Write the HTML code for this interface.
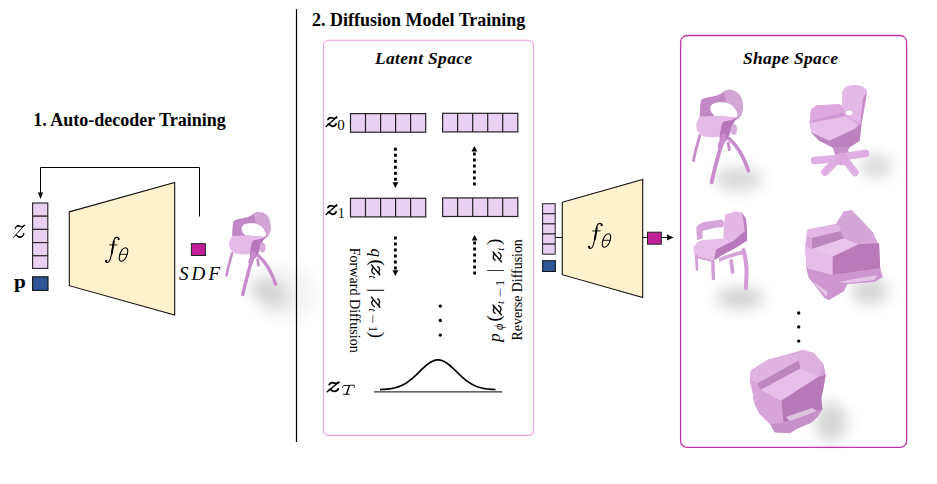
<!DOCTYPE html>
<html><head><meta charset="utf-8">
<style>
html,body{margin:0;padding:0;background:#fff;}
body{width:937px;height:484px;overflow:hidden;position:relative;}
svg{position:absolute;left:0;top:0;}
text{font-family:"Liberation Serif",serif;}
</style></head><body>
<svg width="937" height="484" viewBox="0 0 937 484">
<defs>

  <filter id="blur" x="-50%" y="-50%" width="200%" height="200%"><feGaussianBlur stdDeviation="7"/></filter>
  <path id="zn" d="M0.175,0.246 C0.246,0.095 0.351,0.024 0.456,0.032 C0.561,0.04 0.614,0.127 0.719,0.127 C0.816,0.127 0.912,0.063 0.991,0.008 M0.991,0.008 L0.009,0.984 M0.237,0.794 C0.36,0.794 0.447,0.96 0.588,0.96 C0.737,0.96 0.877,0.817 0.939,0.659" fill="none" stroke="#000" stroke-width="1.35" stroke-linecap="round" vector-effect="non-scaling-stroke"/>
</defs>

<!-- headings -->
<text x="33.2" y="125.8" font-size="18" font-weight="bold">1. Auto-decoder Training</text>
<text x="312" y="25.8" font-size="18" font-weight="bold">2. Diffusion Model Training</text>

<!-- divider -->
<line x1="296.5" y1="9" x2="296.5" y2="442" stroke="#000" stroke-width="1.2"/>

<!-- ===== Part 1 ===== -->
<!-- feedback arrow -->
<polyline points="199.5,216.5 199.5,167.5 40.5,167.5 40.5,193" fill="none" stroke="#000" stroke-width="1"/>
<path d="M37.8,192.5 L43.2,192.5 L40.5,199 z" fill="#000"/>
<!-- z stack -->
<g fill="#E9D1F3" stroke="#222" stroke-width="1.1">
  <rect x="32.6" y="203" width="15.2" height="13.2"/>
  <rect x="32.6" y="216.2" width="15.2" height="13.2"/>
  <rect x="32.6" y="229.4" width="15.2" height="13.2"/>
  <rect x="32.6" y="242.6" width="15.2" height="13.2"/>
  <rect x="32.6" y="255.8" width="15.2" height="12.6"/>
</g>
<rect x="32.6" y="276.8" width="15.4" height="13.6" fill="#2F5597" stroke="#111" stroke-width="1.1"/>
<g fill="none" stroke="#000" stroke-linecap="round">
  <path d="M15.2,228.3 C16,226.4 17.2,225.5 18.4,225.6 C19.6,225.7 20.2,226.8 21.4,226.8 C22.5,226.8 23.6,226 24.5,225.3" stroke-width="1.3"/>
  <path d="M24.5,225.3 L13.3,237.6" stroke-width="0.9"/>
  <path d="M15.9,235.2 C17.3,235.2 18.3,237.3 19.9,237.3 C21.6,237.3 23.2,235.5 23.9,233.5" stroke-width="1.3"/>
  <ellipse cx="18.3" cy="225.9" rx="1.5" ry="0.75" fill="#000" stroke="none"/>
  <ellipse cx="19.6" cy="237" rx="1.5" ry="0.75" fill="#000" stroke="none"/>
</g>
<text transform="translate(14,288.2) scale(1.12,1)" x="0" y="0" font-size="19" font-weight="bold">p</text>
<!-- trapezoid -->
<polygon points="69.3,211.9 174.7,182.4 174.7,315.1 69.3,285.7" fill="#FFF2CC" stroke="#111" stroke-width="1.1"/>
<g id="fth" fill="none" stroke="#000" stroke-linecap="round">
  <path d="M118.9,238.6 C117.8,236.9 115.3,236.8 114.3,239.2 C113.4,241.5 112.8,247 111.8,252.5 C111,257 110.2,260.3 108.7,261.9 C107.6,262.9 106.1,262.6 105.6,261.3" stroke-width="1.1"/>
  <path d="M113.8,241.5 C113.2,245 112.6,249.5 111.8,253.5" stroke-width="1.9"/>
  <circle cx="118.6" cy="239" r="1.15" fill="#000" stroke="none"/>
  <circle cx="106.2" cy="260.9" r="1.15" fill="#000" stroke="none"/>
  <path d="M109.6,244.9 L117.2,244.9" stroke-width="0.9"/>
  <path d="M125.4,247.7 C127.4,247.7 128.1,249.6 127.6,252.5 C126.8,257 124.4,261.2 121.6,261.2 C119.6,261.2 118.9,259.4 119.4,256.5 C120.2,252 122.6,247.7 125.4,247.7 Z" stroke-width="1.1"/>
  <path d="M119.9,254.3 L127.2,254.3" stroke-width="0.9"/>
</g>
<!-- SDF -->
<rect x="191.4" y="243.7" width="14" height="11.8" fill="#C0209A" stroke="#222" stroke-width="1"/>
<text x="179" y="280.2" font-size="19" font-style="italic" textLength="41" lengthAdjust="spacing">SDF</text>



<!-- shadows -->
<g filter="url(#blur)" fill="#000">
  <ellipse cx="286" cy="293" rx="30" ry="28" opacity="0.045"/>
  <ellipse cx="269" cy="292" rx="21" ry="13" opacity="0.13" transform="rotate(25 269 292)"/>
</g>

<!-- chair A -->
<g id="chairA">
  <path d="M233.3,221.4 C235,219.5 239,218.8 242.6,218.3 C245.5,217.8 248,217.2 249.8,216.3 C251,215.5 252,214.8 252.9,214.2 C254.5,213 256.3,212.2 258.1,212.1 C259.5,212 261,212.2 262.2,212.6 C264.5,213.5 266.3,214.8 267.4,216.3 C268.8,218 269.6,219.8 269.9,221.4 C270.5,224 270.6,226.5 270.5,228.7 C270.3,230.5 270,232.2 269.4,233.8 C268.5,235.5 267.5,237 266.3,238 C265,239 263.5,239.6 262.2,240 L259.1,241.1 L252.9,240 L232.2,235.9 C232.2,231 232.5,225 233.3,221.4 Z M241.5,228.7 C241.5,226 244,223.8 247.7,223.5 C250.5,223.2 253.5,223.2 256,223.5 C259.5,224.3 262.5,226.7 264.3,229.7 C265.5,231.5 266.3,233.5 266.3,234.9 C265.7,236 265,236.6 264.3,236.9 L253.9,235.9 L245.7,235.4 C243.5,234 241.7,231.5 241.5,228.7 Z" fill="#C088C4" fill-rule="evenodd"/>
  <path d="M253.5,213.8 C255,212.8 256.8,212.1 258.1,212.1 C259.5,212 261,212.2 262.2,212.6 C264.5,213.5 266.3,214.8 267.4,216.3 C268.8,218 269.6,219.8 269.9,221.4 C270.5,224 270.6,226.5 270.5,228.7 C270.3,230.5 270,232.2 269.4,233.8 C268.5,235.5 267.5,237 266.3,238 L264.3,236.9 C265,236.6 265.7,236 266.3,234.9 C266.3,233.5 265.5,231.5 264.3,229.7 C262.5,226.7 259.5,224.3 256,223.5 C255.5,220 254.5,216.5 253.5,213.8 Z" fill="#D4A5D7"/>
  <path d="M232.2,235.9 L245.7,235.4 L253.9,235.9 L264.3,236.9 L259.1,241.1 L252.9,241.1 C251.5,243.5 251,245.5 250.8,247.3 C250.3,249.5 250,251.5 249.8,253.5 C247.5,254.2 245.5,254.5 243.6,254.5 C240.5,254.3 237.5,254 235.3,253.5 C233,252 231,250.5 230.2,249.3 C229.5,247.5 229.1,245.8 229.1,244.2 C229.3,242.5 229.7,241 230.2,240 C230.8,238.5 231.5,237 232.2,235.9 Z" fill="#E6BAE8"/>
  <path d="M252.9,240.5 L260.1,239 L264.8,237.2 C263.8,239.3 262.8,241 262.2,242.1 C261,245 260,248 259.1,251.4 C258,254 257,256 256,258 L251,258 C250,256 249.8,254.5 249.8,253.5 C250,251.5 250.3,249.5 250.8,247.3 C251,245.5 251.5,243.5 252.9,240.5 Z" fill="#B676BA"/>
  <ellipse cx="262.6" cy="247.5" rx="2.9" ry="4.9" fill="#D8AADB"/>
  <g fill="none" stroke="#C98DCD" stroke-linecap="round">
    <path d="M232.2,253 C230,261 227.6,269 226.6,275.2" stroke-width="2.6"/>
    <path d="M253.2,255 C250,266 245.6,281 242.8,294.6" stroke-width="3.5"/>
    <path d="M253.4,254 L250.8,262" stroke-width="5"/>
    <path d="M258.2,255.5 C264.5,261 271,270 275.6,284.3" stroke-width="3.3"/>
    <path d="M257.6,259.5 L258.6,265.5" stroke-width="2.6"/>
  </g>
</g>

<!-- ===== Part 2: Latent space ===== -->
<rect x="323.5" y="40.3" width="210" height="395.1" rx="5" ry="5" fill="none" stroke="#F0A0DC" stroke-width="1.1"/>
<text x="375" y="64.2" font-size="17.4" font-weight="bold" font-style="italic" textLength="97" lengthAdjust="spacing">Latent Space</text>

<!-- latent rows -->
<g fill="#E9D1F3" stroke="#222" stroke-width="1.2">
  <rect x="350.5" y="113.6" width="75.2" height="18.6"/>
  <rect x="442.6" y="113.3" width="75.2" height="18.6"/>
  <rect x="350.5" y="198.3" width="75.2" height="18.6"/>
  <rect x="442.6" y="197.9" width="75.2" height="18.6"/>
</g>
<g stroke="#222" stroke-width="1.2">
  <line x1="365.5" y1="113.6" x2="365.5" y2="132.2"/>
  <line x1="380.6" y1="113.6" x2="380.6" y2="132.2"/>
  <line x1="395.6" y1="113.6" x2="395.6" y2="132.2"/>
  <line x1="410.6" y1="113.6" x2="410.6" y2="132.2"/>
  <line x1="457.6" y1="113.3" x2="457.6" y2="131.9"/>
  <line x1="472.7" y1="113.3" x2="472.7" y2="131.9"/>
  <line x1="487.7" y1="113.3" x2="487.7" y2="131.9"/>
  <line x1="502.7" y1="113.3" x2="502.7" y2="131.9"/>
  <line x1="365.5" y1="198.3" x2="365.5" y2="216.9"/>
  <line x1="380.6" y1="198.3" x2="380.6" y2="216.9"/>
  <line x1="395.6" y1="198.3" x2="395.6" y2="216.9"/>
  <line x1="410.6" y1="198.3" x2="410.6" y2="216.9"/>
  <line x1="457.6" y1="197.9" x2="457.6" y2="216.5"/>
  <line x1="472.7" y1="197.9" x2="472.7" y2="216.5"/>
  <line x1="487.7" y1="197.9" x2="487.7" y2="216.5"/>
  <line x1="502.7" y1="197.9" x2="502.7" y2="216.5"/>
</g>
<use href="#zb" transform="translate(0,-88)"/>
<text x="337.3" y="129.7" font-size="15">0</text>
<g id="zb" fill="none" stroke="#000" stroke-linecap="round">
  <path d="M327.9,207.6 C328.6,206.3 329.5,205.6 330.6,205.6 C332,205.6 332.8,206.3 334,206.3 C335,206.3 335.9,205.7 336.6,205.2" stroke-width="1.7"/>
  <path d="M336.6,205.2 L326.1,214.6" stroke-width="1.3"/>
  <path d="M328.3,212.2 C329.5,212.2 330.7,214.3 332.6,214.3 C334.3,214.3 335.6,213 336.1,211.8" stroke-width="1.8"/>
</g>
<text x="338" y="217.8" font-size="14.5" textLength="6.5" lengthAdjust="spacingAndGlyphs">1</text>
<use href="#zb" transform="matrix(1.1 0 0 1 -31.49 177.1)"/>
<g fill="none" stroke="#000" stroke-linecap="round">
  <path d="M342.6,387.3 C342.9,386 343.2,385.5 344,385.5 L354.3,385.2 C354.5,386 354.4,386.8 354.1,387.5" stroke-width="0.9"/>
  <path d="M349.4,385.6 L346.6,394" stroke-width="1.4"/>
  <path d="M343.5,394.3 L349.3,394.3" stroke-width="0.9"/>
</g>

<!-- dotted arrows -->
<g stroke="#000" stroke-width="2.8" stroke-dasharray="3,3" fill="none">
  <line x1="395.4" y1="147.8" x2="395.4" y2="183.8"/>
  <line x1="474.4" y1="152.4" x2="474.4" y2="188.4"/>
  <line x1="395.4" y1="236.5" x2="395.4" y2="272.5"/>
  <line x1="474.6" y1="241.5" x2="474.6" y2="277.5"/>
</g>
<g fill="#000">
  <path d="M392.5,182.2 L398.3,182.2 L395.4,188.1 z"/>
  <path d="M471.5,151.5 L477.3,151.5 L474.4,146 z"/>
  <path d="M392.5,270.2 L398.3,270.2 L395.4,276.1 z"/>
  <path d="M471.7,240.6 L477.5,240.6 L474.6,235.1 z"/>
</g>

<!-- rotated labels -->
<text transform="translate(350.3,0) rotate(90)" x="247.7" y="0" font-size="14" textLength="105.1" lengthAdjust="spacingAndGlyphs">Forward Diffusion</text>
<g transform="translate(371.4,0) rotate(90)" font-style="italic">
  <text x="248.6" y="0" font-size="17">q</text>
  <text x="259.4" y="0" font-size="19" font-style="normal">(</text>
  <use href="#zn" transform="translate(264.90,-8.50) scale(9.90,8.50)"/>
  <text x="275.6" y="2.5" font-size="11">t</text>
  <text x="288.3" y="0" font-size="19" font-style="normal">|</text>
  <use href="#zn" transform="translate(297.00,-8.50) scale(10.40,8.50)"/>
  <text x="308.4" y="2.5" font-size="11">t</text>
  <text x="314.6" y="2.5" font-size="12" font-style="normal" textLength="9.6" lengthAdjust="spacingAndGlyphs">−</text>
  <text x="326" y="2.5" font-size="12" font-style="normal">1</text>
  <text x="331.8" y="0" font-size="19" font-style="normal">)</text>
</g>
<text transform="translate(522,340.4) rotate(-90)" x="0" y="0" font-size="14" textLength="101.2" lengthAdjust="spacingAndGlyphs">Reverse Diffusion</text>
<g transform="translate(501.5,342) rotate(-90)" font-style="italic">
  <text x="0" y="-1.4" font-size="17.5">p</text>
  <text x="12.1" y="1.2" font-size="12.5">ϕ</text>
  <text x="20.4" y="-1.3" font-size="19" font-style="normal">(</text>
  <use href="#zn" transform="translate(27.10,-8.50) scale(9.90,8.50)"/>
  <text x="37.9" y="2.5" font-size="11">t</text>
  <text x="44.8" y="2.5" font-size="12" font-style="normal" textLength="9" lengthAdjust="spacingAndGlyphs">−</text>
  <text x="56" y="2.5" font-size="12" font-style="normal">1</text>
  <text x="69.8" y="-1.3" font-size="19" font-style="normal">|</text>
  <use href="#zn" transform="translate(80.20,-8.50) scale(9.90,8.50)"/>
  <text x="91.3" y="2.5" font-size="11">t</text>
  <text x="96.9" y="-1.3" font-size="19" font-style="normal">)</text>
</g>

<!-- vertical dots -->
<g fill="#000">
  <circle cx="440.3" cy="306.1" r="1.7"/>
  <circle cx="440.3" cy="320.5" r="1.7"/>
  <circle cx="440.3" cy="335.1" r="1.7"/>
</g>
<!-- gaussian -->
<line x1="374" y1="391.9" x2="502.2" y2="391.9" stroke="#333" stroke-width="1.4"/>
<path id="gauss" d="M380.0,389.58 L381.5,389.52 L383.0,389.44 L384.5,389.34 L386.0,389.22 L387.5,389.08 L389.0,388.90 L390.5,388.69 L392.0,388.44 L393.5,388.14 L395.0,387.79 L396.5,387.38 L398.0,386.91 L399.5,386.37 L401.0,385.75 L402.5,385.06 L404.0,384.28 L405.5,383.41 L407.0,382.46 L408.5,381.41 L410.0,380.29 L411.5,379.08 L413.0,377.80 L414.5,376.46 L416.0,375.06 L417.5,373.62 L419.0,372.15 L420.5,370.69 L422.0,369.23 L423.5,367.81 L425.0,366.44 L426.5,365.15 L428.0,363.96 L429.5,362.90 L431.0,361.97 L432.5,361.19 L434.0,360.59 L435.5,360.17 L437.0,359.94 L438.5,359.91 L440.0,360.07 L441.5,360.43 L443.0,360.97 L444.5,361.69 L446.0,362.57 L447.5,363.59 L449.0,364.74 L450.5,366.00 L452.0,367.34 L453.5,368.75 L455.0,370.20 L456.5,371.66 L458.0,373.13 L459.5,374.58 L461.0,375.99 L462.5,377.36 L464.0,378.66 L465.5,379.90 L467.0,381.05 L468.5,382.12 L470.0,383.10 L471.5,384.00 L473.0,384.81 L474.5,385.53 L476.0,386.17 L477.5,386.74 L479.0,387.23 L480.5,387.66 L482.0,388.03 L483.5,388.35 L485.0,388.61 L486.5,388.84 L488.0,389.02 L489.5,389.18 L491.0,389.31 L492.5,389.41 L494.0,389.49 L495.5,389.56" fill="none" stroke="#000" stroke-width="1.7" stroke-linejoin="round"/>

<!-- ===== middle decoder ===== -->
<g fill="#E9D1F3" stroke="#222" stroke-width="1">
  <rect x="542.6" y="203.7" width="12.6" height="10.1"/>
  <rect x="542.6" y="213.8" width="12.6" height="10.1"/>
  <rect x="542.6" y="223.9" width="12.6" height="10.1"/>
  <rect x="542.6" y="234" width="12.6" height="10.1"/>
  <rect x="542.6" y="244.1" width="12.6" height="10.1"/>
</g>
<rect x="542.6" y="260.7" width="12.8" height="10.8" fill="#2F5597" stroke="#111" stroke-width="1"/>
<line x1="555.3" y1="237.5" x2="562.3" y2="237.5" stroke="#111" stroke-width="1"/>
<polygon points="562.3,202.3 642.7,179.4 642.7,297.5 562.3,274.7" fill="#FFF2CC" stroke="#111" stroke-width="1.1"/>
<use href="#fth" transform="translate(483,-14)"/>
<line x1="642.7" y1="237.5" x2="647.3" y2="237.5" stroke="#111" stroke-width="1"/>
<rect x="647.5" y="232.2" width="13.8" height="12" fill="#C0209A" stroke="#222" stroke-width="1"/>
<line x1="661.3" y1="237.5" x2="668" y2="237.5" stroke="#111" stroke-width="1"/>
<path d="M667,234.6 L673.5,237.5 L667,240.4 z" fill="#000"/>

<!-- ===== Shape space ===== -->
<rect x="680.6" y="35.5" width="226" height="411.9" rx="6.5" ry="6.5" fill="none" stroke="#C035A8" stroke-width="1.3"/>
<text x="743" y="64.2" font-size="17.4" font-weight="bold" font-style="italic" textLength="95" lengthAdjust="spacing">Shape Space</text>

<g filter="url(#blur)" fill="#000">
  <ellipse cx="738" cy="179" rx="24" ry="12" opacity="0.15"/>
  <ellipse cx="876" cy="166" rx="16" ry="12" opacity="0.14"/>
  <ellipse cx="740" cy="298" rx="24" ry="11" opacity="0.17"/>
  <ellipse cx="870" cy="291" rx="18" ry="14" opacity="0.16"/>
  <ellipse cx="831" cy="422" rx="16" ry="20" opacity="0.16"/>
</g>
<!-- chair B (copy of A) -->
<use href="#chairA" transform="matrix(1.12 0 0 1.12 439.7 -147.7)"/>

<!-- chair C office -->
<g>
  <path d="M811.1,109.3 L817.1,105.3 L839.4,104.3 L842.4,106 L842.4,92 C843,88.5 847,85.6 851.6,85.4 C857,85.2 862,85.8 864.5,88 C866.2,89.5 866.8,91 866.7,92.1 L865.7,100.2 L861.7,122.5 L859.7,140.7 L847.5,148.8 L835.4,148.8 L819.2,140.7 L811.1,132.6 L809.5,122 Z" fill="#DDA9E0"/>
  <path d="M842.4,108.3 L842.4,92 C843,88.5 847,85.6 851.6,85.4 C857,85.2 862,85.8 864.5,88 C866.2,89.5 866.8,91 866.7,92.1 L863,98 L860.5,122 L852,119 Z" fill="#E4B8E7"/>
  <path d="M863,98 L866.7,92.1 L865.7,100.2 L861.7,122.5 L860.5,122 Z" fill="#C48BC8"/>
  <path d="M811.1,109.3 L817.1,105.3 L839.4,104.3 L843.5,108.3 L843.5,112.4 L813.1,120.5 L810,118 Z" fill="#DCA8DF"/>
  <path d="M813.1,120.5 L843.5,112.4 L845.5,116.5 L811.5,123.5 Z" fill="#CF97D3"/>
  <path d="M811.1,122.8 L845.5,116.3 L857.6,125 L855.6,128.6 L829.3,140.7 L811.1,132.6 Z" fill="#E8BEEA"/>
  <path d="M811.1,132.6 L829.3,140.7 L855.6,128.6 L861.7,122.5 L859.7,140.7 L847.5,148.8 L835.4,148.8 L819.2,140.7 Z" fill="#BC82C0"/>
  <ellipse cx="849" cy="112.8" rx="3.4" ry="2.4" fill="#fff"/>
  <path d="M832.5,147 L848.8,147 L847.7,158.2 L836.9,160.4 Z" fill="#C690CA"/>
  <g fill="none" stroke="#DFAEE2" stroke-width="7.5" stroke-linecap="round" stroke-linejoin="round">
    <path d="M838,158.5 L814.5,160.5"/>
    <path d="M836,161 L825,172"/>
    <path d="M846,161 L855,172.5"/>
    <path d="M847,156 L865.5,153.5"/>
  </g>
  <circle cx="841.5" cy="159" r="6.5" fill="#DCA8DF"/>
</g>

<!-- chair D armchair -->
<g>
  <path d="M724.3,222.7 L725.3,214.5 L734.6,211.4 L741.8,212.4 L745.9,218.6 L747,231 L744.9,231 L732.5,241.3 L729.4,243.4 L724.3,238.2 L723.2,237.2 Z" fill="#E4B6E6"/>
  <path d="M741.8,212.4 L745.9,218.6 L747,231 L744.9,232 C744,226 743.5,219 741.8,212.4 Z" fill="#BE80C2"/>
  <path d="M696.4,226.9 C699,224 702,222.3 705.7,221.7 L722.2,219.6 L724.3,222.7 L723.2,226.9 C716,227.5 708,229 702.6,231 L702.6,238.2 L697.4,240.3 C696.6,235 696.3,230 696.4,226.9 Z" fill="#D6A3DA"/>
  <path d="M693.3,247.5 L697.4,242 L701.5,240.3 L724.3,238.2 L729.4,243.4 L716,249.6 L713.9,259.9 L695.3,255.8 C694,253 693.4,250 693.3,247.5 Z" fill="#E8BEEA"/>
  <path d="M695.3,255.8 L713.9,259.9 L714.5,262.5 L695.5,258 Z" fill="#D6A3DA"/>
  <path d="M716,249.6 C721,247 727,244 732.5,241.3 C737,238 741,234 744.9,231 L747,228.9 L747,241 L746,241.3 C742,244 738,246.5 734.6,248.6 C729,251.5 723,254.5 718,257.9 L714,260 Z" fill="#B878BC"/>
  <path d="M719.1,257.9 C726,255 735,252 744.9,249.7 L745.5,253.7 C736,255.5 727,258.5 719.1,262 Z" fill="#D6A3DA"/>
  <g fill="none" stroke="#D29CD7" stroke-linecap="round">
    <path d="M696.2,255.5 L697,269.5" stroke-width="2.7"/>
    <path d="M712.8,262 L713.4,278.5" stroke-width="3.4"/>
    <path d="M731.2,261 L732.6,272" stroke-width="3.8"/>
    <path d="M743.5,250 C745.5,258 746.8,266 746.5,274 C746.3,280 746,284 745.9,288.2" stroke-width="4"/>
  </g>
</g>

<!-- chair E sofa -->
<g>
  <path d="M807.5,229.5 L835.9,223.9 L843.9,211.4 L851.8,210.2 L872.3,231.8 L879.1,245.5 L880.2,268.2 L882.5,277.3 L874.5,281.8 L847.3,284.1 L843.9,290.9 L829.1,300 L824.5,297.7 L808.6,277.3 L806.4,268.2 L805.2,245.5 Z" fill="#D8A6DB"/>
  <path d="M807.5,229.5 L835.9,223.9 L840,226 L841,231 L812,238 L806.5,236 Z" fill="#E2B5E4"/>
  <path d="M812,238 L841,231 L843.9,238.6 L812,248.9 Z" fill="#BC87BE"/>
  <path d="M835.9,223.9 L843.9,211.4 L851.8,210.2 L872.3,231.8 L874.5,234.1 L860.9,243.2 L858.6,244.3 L843.9,238.6 L841,231 L840,226 Z" fill="#D4A5D7"/>
  <path d="M812,248.9 L843.9,238.6 L858.6,244.3 L833.6,256.8 Z" fill="#EAC4EC"/>
  <path d="M832.5,256.8 L858.6,244.3 L879.1,243.2 L880.2,268.2 L832.5,275 Z" fill="#B87AB9"/>
  <path d="M805.2,245.5 L812,248.9 L833.6,256.8 L832.5,256.8 L832.5,275 L806.4,268.2 Z" fill="#E6BCE8"/>
  <path d="M806.4,268.2 L832.5,275 L880.2,268.2 L882.5,277.3 L874.5,281.8 L847.3,284.1 L843.9,290.9 L829.1,300 L824.5,297.7 L808.6,277.3 Z" fill="#CD96D0"/>
  <path d="M838,282 L860,278 L878,275 L874,280 L848,283 Z" fill="#E4C4E7"/>
  <path d="M815,283 L828,292 L826,296 L812,282 Z" fill="#E4C4E7"/>
</g>

<!-- chair F sofa bottom -->
<g>
  <path d="M750.8,370.4 L768.2,359.5 L796.4,351.9 L802.9,349.8 L813.8,353 L823.5,363.9 L825.7,374.7 L823.5,387.7 L821.3,398.6 L822.4,409.4 L818.1,415.9 L811.6,422.4 L796.4,428.9 L789.9,433.3 L774.7,432.2 L770.4,424.6 L759.5,413.8 L754.1,402.9 L753,394.2 L749.8,379 Z" fill="#D6A4D9"/>
  <path d="M750.8,370.4 L768.2,359.5 L796.4,353.5 L798.6,360.6 L757.4,383.4 L750,379 Z" fill="#E0B3E3"/>
  <path d="M757.4,383.4 L798.6,360.6 L800.7,368.2 L760.6,389.9 Z" fill="#BC87BE"/>
  <path d="M796.4,351.9 L802.9,349.8 L813.8,353 L823.5,363.9 L818.1,376.9 L800.7,368.2 L798.6,360.6 Z" fill="#DDB0E0"/>
  <path d="M760.6,389.9 L800.7,368.2 L818.1,376.9 L781.2,400.7 Z" fill="#E8BEEA"/>
  <path d="M781.2,400.7 L818.1,376.9 L825.7,374.7 L823.5,387.7 L821.3,398.6 L822.4,409.4 L783.4,422.4 Z" fill="#B77AB9"/>
  <path d="M749.8,379 L760.6,389.9 L781.2,400.7 L783.4,422.4 L770.4,424.6 L759.5,413.8 L754.1,402.9 L753,394.2 Z" fill="#D7A5DA"/>
  <path d="M783.4,422.4 L822.4,409.4 L818.1,415.9 L811.6,422.4 L796.4,428.9 L789.9,433.3 L774.7,432.2 L770.4,424.6 Z" fill="#C690CA"/>
  <path d="M786,417 L812,408 L817,411 L790,421 Z" fill="#DEC3E1"/>
</g>

<g fill="#000">
  <circle cx="798.7" cy="313" r="1.7"/>
  <circle cx="798.7" cy="326.9" r="1.7"/>
  <circle cx="798.7" cy="341.1" r="1.7"/>
</g>

</svg>
</body></html>
